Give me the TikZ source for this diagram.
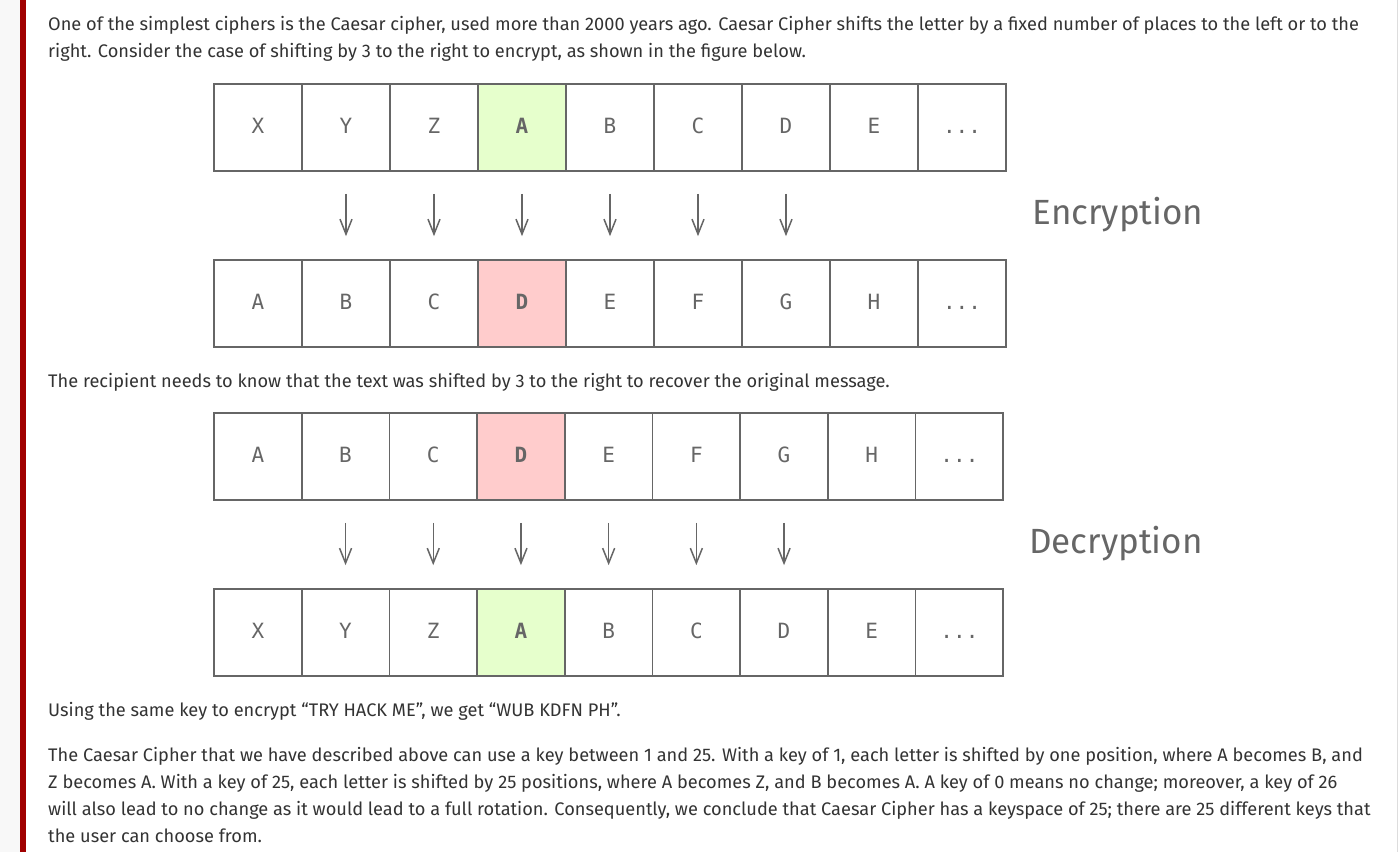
\documentclass[tikz,border=0pt]{standalone}
\usepackage{fontspec}
\setmainfont{Fira Sans}
\newfontfamily\cellfont{DejaVu Sans Mono}
\usetikzlibrary{arrows.meta, positioning}
\definecolor{lineGray}{HTML}{666666}
\definecolor{textDark}{HTML}{333333}
\definecolor{plainGreen}{HTML}{E6FFCC}
\definecolor{cipherPink}{HTML}{FFCCCC}
\definecolor{barRed}{HTML}{A00000}
\definecolor{sideGray}{HTML}{F8F8F8}
\definecolor{edgeGray}{HTML}{DDDDDD}
\newcommand{\moredots}{.{}.{}.}

\tikzset{
    cellbox/.style={draw=lineGray, line width=1.7pt, minimum height=87pt, inner sep=0pt,
        text height=11pt, text depth=0pt, text=lineGray, font=\cellfont\fontsize{21}{21}\selectfont},
    normalcell/.style={},
    greencell/.style={fill=plainGreen, font=\cellfont\bfseries\fontsize{21}{21}\selectfont},
    pinkcell/.style={fill=cipherPink, font=\cellfont\bfseries\fontsize{21}{21}\selectfont},
    shiftarrow/.style={-{Straight Barb[length=15pt, width=12pt]}, line width=1.5pt, lineGray,
        shorten <=22pt, shorten >=23pt},
    bodytext/.style={anchor=base west, inner sep=0pt, text=textDark, font=\fontsize{18.2}{20}\selectfont},
    modelabel/.style={text=lineGray, font=\fontsize{35}{35}\selectfont}
}

\begin{document}
\begin{tikzpicture}[x=1pt, y=-1pt]
    \useasboundingbox (0,0) rectangle (1400,852);
    \fill[white] (0,0) rectangle (1400,852);
    \fill[sideGray] (0,0) rectangle (20,852);
    \fill[barRed] (20,0) rectangle (26,852);
    \draw[edgeGray] (1397,0) -- (1397,852);

    % encryption rows
    \foreach \ch/\look [count=\i] in {X/normalcell, Y/normalcell, Z/normalcell, A/greencell, B/normalcell, C/normalcell, D/normalcell, E/normalcell, \moredots/normalcell}
        \node[cellbox, minimum width=88pt, \look] (encIn-\i) at (170+88*\i, 127.5) {\ch};
    \foreach \ch/\look [count=\i] in {A/normalcell, B/normalcell, C/normalcell, D/pinkcell, E/normalcell, F/normalcell, G/normalcell, H/normalcell, \moredots/normalcell}
        \node[cellbox, minimum width=88pt, \look] (encOut-\i) at (170+88*\i, 303.5) {\ch};
    \foreach \i in {2,3,4,5,6,7}
        \draw[shiftarrow] (encIn-\i.south) -- (encOut-\i.north);
    \node[modelabel] (encLabel) at (1118, 215) {Encryption};

    % decryption rows
    \foreach \ch/\look [count=\i] in {A/normalcell, B/normalcell, C/normalcell, D/pinkcell, E/normalcell, F/normalcell, G/normalcell, H/normalcell, \moredots/normalcell}
        \node[cellbox, minimum width=87.7pt, \look] (decIn-\i) at (170.15+87.7*\i, 456.5) {\ch};
    \foreach \ch/\look [count=\i] in {X/normalcell, Y/normalcell, Z/normalcell, A/greencell, B/normalcell, C/normalcell, D/normalcell, E/normalcell, \moredots/normalcell}
        \node[cellbox, minimum width=87.7pt, \look] (decOut-\i) at (170.15+87.7*\i, 632.5) {\ch};
    \foreach \i in {2,3,4,5,6,7}
        \draw[shiftarrow] (decIn-\i.south) -- (decOut-\i.north);
    \node[modelabel] (decLabel) at (1116, 544) {Decryption};

    % text round the figure
    \node[bodytext] (intro1) at (48,30) {One of the simplest ciphers is the Caesar cipher, used more than 2000 years ago. Caesar Cipher shifts the letter by a fixed number of places to the left or to the};
    \node[bodytext] (intro2) at (48,57) {right. Consider the case of shifting by 3 to the right to encrypt, as shown in the figure below.};
    \node[bodytext] (middle) at (48,387) {The recipient needs to know that the text was shifted by 3 to the right to recover the original message.};
    \node[bodytext] (example) at (48,716) {Using the same key to encrypt “TRY HACK ME”, we get “WUB KDFN PH”.};
    \node[bodytext] (keys1) at (48,761) {The Caesar Cipher that we have described above can use a key between 1 and 25. With a key of 1, each letter is shifted by one position, where A becomes B, and};
    \node[bodytext] (keys2) at (48,788) {Z becomes A. With a key of 25, each letter is shifted by 25 positions, where A becomes Z, and B becomes A. A key of 0 means no change; moreover, a key of 26};
    \node[bodytext] (keys3) at (48,815) {will also lead to no change as it would lead to a full rotation. Consequently, we conclude that Caesar Cipher has a keyspace of 25; there are 25 different keys that};
    \node[bodytext] (keys4) at (48,842) {the user can choose from.};
\end{tikzpicture}
\end{document}
